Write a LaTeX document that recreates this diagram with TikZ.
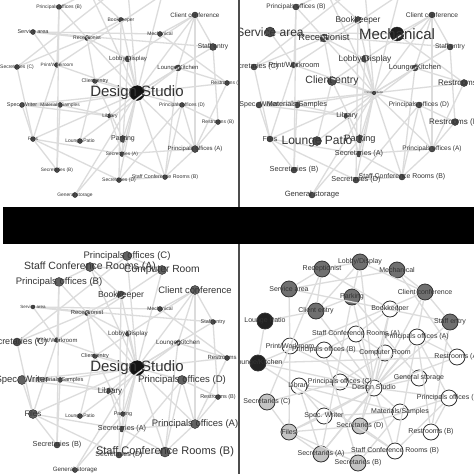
\documentclass[tikz,border=0pt]{standalone}
\usepackage{fontspec}
\setmainfont{Liberation Sans}
\newcommand\fsz[1]{\fontsize{#1}{#1}\selectfont}
\newcommand\pslash{/}
\definecolor{edgec}{HTML}{DCDCDC}
\definecolor{txtc}{HTML}{333333}
\definecolor{dotc}{HTML}{505050}
\definecolor{brdk}{HTML}{707070}
\definecolor{brbk}{HTML}{222222}
\definecolor{brlt}{HTML}{C4C4C4}
\definecolor{brwh}{HTML}{FFFFFF}
\def\nodetable{%
poC/127/-19/{Principals offices (C)}/5/2.5/5/2.5/9.5/4.5,%
scrA/90/-8/{Staff Conference Rooms (A)}/5/2.5/5/2.5/10.5/4.5,%
comp/162/-5/{Computer Room}/5/2.5/5/2.5/10.3/4.5,%
poB/59/7/{Principals offices (B)}/5/2.5/6.5/3/9.5/4.5,%
book/121/20/{Bookkeeper}/5/2.5/8.4/3.5/8.6/4,%
cc/195/15/{Client conference}/6.3/3/6.7/3/9.4/4.5,%
serv/33/32/{Service area}/5.5/2.5/12/5/4.5/2,%
recp/87/38/{Receptionist}/5/2.5/9.3/4/5.9/2.5,%
mech/160/34/{Mechanical}/5/2.5/15/7/5/2.5,%
se/213/47/{Staff entry}/6.7/3.5/6.6/3/5.4/2.5,%
secC/17/67/{Secretaries (C)}/5/2.5/7.3/3/9/4,%
print/57/65/{Print\pslash Workroom}/4.7/2.5/7.4/3/5.9/2.5,%
lobby/128/59/{Lobby\pslash Display}/6/3/8.4/3.5/6.3/2.5,%
lk/178/68/{Lounge\pslash Kitchen}/5.9/3/7.5/3/6.3/2.5,%
ce/95/81/{Client entry}/5.3/2.5/10.5/4.5/5.5/2.5,%
restA/227/83/{Restrooms (A)}/5/2.5/8/3.5/6/2.5,%
ds/137/93/{Design Studio}/15/7.5/3/2/15/7.5,%
spec/22/105/{Spec. Writer}/5.4/2.5/7/3/9.5/4.5,%
mat/60/105/{Materials\pslash Samples}/4.8/2.5/7.3/3/5.7/2.5,%
poD/182/105/{Principals offices (D)}/5/2.5/6.6/3/9.6/4.5,%
lib/110/116/{Library}/5/2.5/7/3/8/3.5,%
restB/218/122/{Restrooms (B)}/5/2.5/8/3.5/5.5/2.5,%
files/33/139/{Files}/4.8/2.5/7/3/8/4.5,%
lp/80/141/{Lounge Patio}/5/2.5/12/4.5/5/2.5,%
park/123/139/{Parking}/7/3.5/9.2/4/5.4/2.5,%
poA/195/149/{Principals offices (A)}/6/3.5/6.5/3/9.5/4.5,%
secA/122/154/{Secretaries (A)}/4.8/2.5/7.2/3/7.2/3,%
secB/57/170/{Secretaries (B)}/4.8/2.5/7.3/3/7.3/3,%
scrB/165/177/{Staff Conference Rooms (B)}/5.3/2.5/6.9/3/11/5,%
secD/119/180/{Secretaries (D)}/5/2.5/7.3/3/7/3,%
gs/75/195/{General storage}/4.9/2.5/7.6/3/6.2/2.5}
\def\edgetable{%
ds/poA,ds/poB,ds/poC,ds/poD,ds/scrA,ds/scrB,ds/comp,ds/lib,ds/mat,ds/spec,%
ds/print,ds/lobby,ds/ce,ds/book,ds/lk,ds/restA,ds/secA,ds/secD,ds/park,ds/cc,%
ds/gs,ds/files,ds/se,%
serv/mech,serv/print,serv/se,serv/recp,%
recp/lobby,recp/ce,recp/book,recp/secC,%
lobby/ce,lobby/cc,lobby/park,%
ce/park,ce/lp,%
cc/se,cc/poA,cc/lk,cc/mech,%
mech/restA,se/restB,%
lk/restA,lk/lp,lk/scrB,%
poA/poD,poA/secA,poA/scrB,poA/restB,%
poD/secD,poD/scrB,poD/restB,%
poB/secB,poB/print,poB/scrA,%
poC/secC,poC/comp,%
scrA/comp,scrA/book,%
secA/files,secB/files,secC/files,secD/files,%
files/spec,files/print,%
spec/mat,spec/lib,mat/lib,mat/secB,lib/secA,%
gs/park,scrB/secD,scrB/secA,park/secA,print/comp,book/secD,restA/poA}
\def\brtable{%
lobby/360/262/dk/{Lobby\pslash Display},%
recp/322/269/dk/{Receptionist},%
mech/397/270/dk/{Mechanical},%
serv/289/289/dk/{Service area},%
park/352/297/dk/{Parking},%
cc/425/292/dk/{Client conference},%
ce/316/311/dk/{Client entry},%
book/390/309/wh/{Bookkeeper},%
lp/265/321/bk/{Lounge Patio},%
se/450/322/dk/{Staff entry},%
scrA/356/334/wh/{Staff Conference Rooms (A)},%
poA/417/337/wh/{Principals offices (A)},%
print/290/346/wh/{Print\pslash Workroom},%
poB/324/350/wh/{Principals offices (B)},%
comp/385/353/wh/{Computer Room},%
restA/457/357/wh/{Restrooms (A)},%
lk/258/363/bk/{Lounge\pslash Kitchen},%
gs/419/378/wh/{General storage},%
lib/299/386/wh/{Library},%
poC/340/382/wh/{Principals offices (C)},%
ds/374/388/wh/{Design Studio},%
poD/449/398/wh/{Principals offices (D)},%
secC/267/402/lt/{Secretaries (C)},%
spec/324/416/wh/{Spec. Writer},%
mat/400/412/wh/{Materials\pslash Samples},%
secD/360/426/lt/{Secretaries (D)},%
files/289/432/lt/{Files},%
restB/431/432/wh/{Restrooms (B)},%
secA/321/454/lt/{Secretaries (A)},%
scrB/395/451/wh/{Staff Conference Rooms (B)},%
secB/358/463/lt/{Secretaries (B)}}
\begin{document}
\begin{tikzpicture}[x=1pt,y=-1pt,
  edge/.style={draw=edgec,line width=1.3pt},
  dot/.style={circle,inner sep=0pt,draw=black!85,line width=0.4pt},
  lbl/.style={inner sep=0pt,text=txtc},
  brnode/.style={circle,inner sep=0pt,minimum size=16pt,draw=black!80,line width=0.8pt},
  brlbl/.style={inner sep=0pt,text=txtc,font=\fsz{7}},
  divider/.style={draw=black!70,line width=1.6pt}]
\useasboundingbox (0,0) rectangle (474,474);
\fill[white] (0,0) rectangle (474,474);
% ---------- top-left panel
\begin{scope}
\clip (0,0) rectangle (238,206);
\foreach \id/\x/\y/\lab/\sa/\da/\sb/\db/\sc/\dc in \nodetable {
  \pgfmathtruncatemacro\shd{\da>6?92:70}
  \node[dot,fill=black!\shd,minimum size={2*\da*1pt}] (a-\id) at (\x,\y) {};}
\foreach \u/\v in \edgetable {\draw[edge] (a-\u) -- (a-\v);}
\foreach \id/\x/\y/\lab/\sa/\da/\sb/\db/\sc/\dc in \nodetable {
  \node[lbl,font=\fsz{\sa}] at (a-\id) {\lab};}
\end{scope}
% ---------- top-right panel
\begin{scope}
\clip (239,0) rectangle (474,206);
\foreach \id/\x/\y/\lab/\sa/\da/\sb/\db/\sc/\dc in \nodetable {
  \pgfmathtruncatemacro\shd{\db>6?88:70}
  \node[dot,fill=black!\shd,minimum size={2*\db*1pt}] (b-\id) at (\x+237,\y) {};}
\foreach \u/\v in \edgetable {\draw[edge] (b-\u) -- (b-\v);}
\foreach \id/\x/\y/\lab/\sa/\da/\sb/\db/\sc/\dc in \nodetable {
  \node[lbl,font=\fsz{\sb}] at (b-\id) {\lab};}
\end{scope}
% ---------- bottom-left panel
\begin{scope}
\clip (0,244) rectangle (238,474);
\foreach \id/\x/\y/\lab/\sa/\da/\sb/\db/\sc/\dc in \nodetable {
  \pgfmathtruncatemacro\shd{\dc>6?92:(\dc>4?62:70)}
  \node[dot,fill=black!\shd,minimum size={2*\dc*1pt}] (c-\id) at (\x,\y+275) {};}
\foreach \u/\v in \edgetable {\draw[edge] (c-\u) -- (c-\v);}
\foreach \id/\x/\y/\lab/\sa/\da/\sb/\db/\sc/\dc in \nodetable {
  \node[lbl,font=\fsz{\sc}] at (c-\id) {\lab};}
\end{scope}
% ---------- bottom-right panel
\begin{scope}
\clip (239,244) rectangle (474,474);
\foreach \id/\x/\y/\f/\lab in \brtable {
  \node[brnode,fill=br\f] (d-\id) at (\x,\y) {};}
\foreach \u/\v in \edgetable {\draw[edge] (d-\u) -- (d-\v);}
\foreach \id/\x/\y/\f/\lab in \brtable {
  \node[brlbl] at (d-\id) {\lab};}
\end{scope}
% ---------- frame
\fill[black] (3,207) rectangle (474,244);
\draw[divider] (239,0) -- (239,207);
\draw[divider] (239,244) -- (239,474);
\end{tikzpicture}
\end{document}
